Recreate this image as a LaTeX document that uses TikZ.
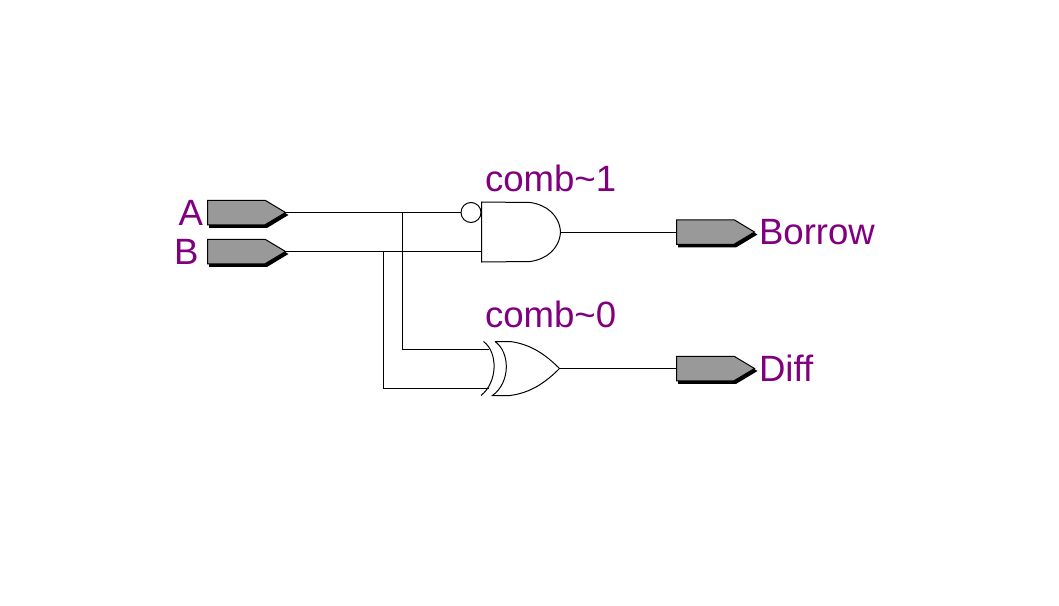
\documentclass[tikz,border=0pt]{standalone}
\usepackage{fontspec}
\setmainfont{Liberation Sans}
\usetikzlibrary{shapes.symbols,shadows}
\definecolor{pinfill}{RGB}{153,153,153}
\definecolor{labelcol}{RGB}{128,0,128}
\tikzset{
  pin/.style={draw=black,fill=pinfill,shape=signal,signal to=east,signal pointer angle=62,
    minimum width=78pt,minimum height=24.5pt,inner sep=0pt,anchor=west,
    copy shadow={shadow xshift=2pt,shadow yshift=-2.5pt,fill=black,draw=black}},
  wire/.style={draw=black,line width=1pt},
  lbl/.style={text=labelcol,font=\fontsize{36.6pt}{36.6pt}\selectfont,inner sep=0pt},
  gatebox/.style={inner sep=0pt,anchor=west}
}
\begin{document}
\begin{tikzpicture}[x=1pt,y=-1pt,line width=1pt]
  \useasboundingbox (0,0) rectangle (1059,605);
  % pins
  \node[pin] (pinA) at (207,212.5) {};
  \node[pin] (pinB) at (207,251.5) {};
  \node[pin] (pinBorrow) at (676,232) {};
  \node[pin] (pinDiff) at (676,368.5) {};
  \node[lbl,anchor=base east] (lblA) at (203.5,225) {A};
  \node[lbl,anchor=base east] (lblB) at (199,264) {B};
  \node[lbl,anchor=base west] (lblBorrow) at (758.5,244.5) {Borrow};
  \node[lbl,anchor=base west] (lblDiff) at (758.5,381) {Diff};
  % and gate
  \node[gatebox,minimum width=78pt,minimum height=59pt] (and1) at (481.5,232) {};
  \node[draw,circle,inner sep=0pt,minimum size=20pt] (bubble) at (471,212.5) {};
  \draw[wire] (and1.east) .. controls (559.5,215) and (546,204.5) .. (530,202.5)
    -- (and1.north west) -- (and1.south west) -- (530,261.5)
    .. controls (546,259.5) and (559.5,249) .. (and1.east);
  \node[lbl,anchor=base west] (lblAnd) at (484.5,191) {comb\string~1};
  % xor gate
  \node[gatebox,minimum width=65pt,minimum height=54pt] (xor1) at (493.5,368.5) {};
  \draw[wire] (495,341.5) .. controls (510,352) and (511,382) .. (492.5,395.5)
    -- (510,395.5) .. controls (530,393) and (545,383) .. (xor1.east)
    .. controls (545,354) and (530,344) .. (510,341.5) -- (495,341.5);
  \draw[wire] (483.5,341.5) .. controls (498,352) and (498,382) .. (481,395.5);
  \node[lbl,anchor=base west] (lblXor) at (484.5,327) {comb\string~0};
  % wires
  \coordinate (jA) at (402.5,212.5);
  \coordinate (jB) at (383.5,251.5);
  \coordinate (xorA) at (488.5,349.5);
  \coordinate (xorB) at (488.5,388);
  \coordinate (andB) at (and1.west |- jB);
  \draw[wire] (pinA.east) -- (bubble.west);
  \draw[wire] (pinB.east) -- (andB);
  \draw[wire] (jA) |- (xorA);
  \draw[wire] (jB) |- (xorB);
  \draw[wire] (and1.east) -- (pinBorrow.west);
  \draw[wire] (xor1.east) -- (pinDiff.west);
\end{tikzpicture}
\end{document}
